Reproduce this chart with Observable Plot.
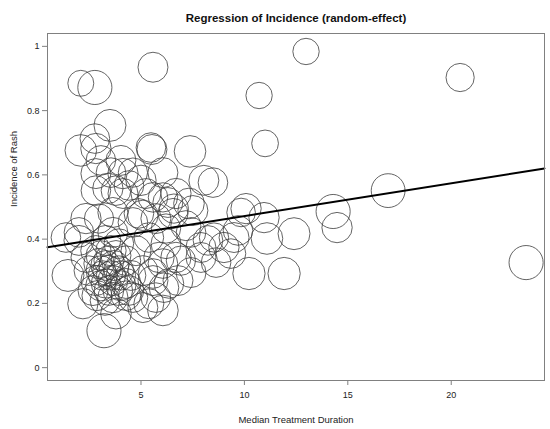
<!DOCTYPE html>
<html>
<head>
<meta charset="utf-8">
<script src="https://cdn.jsdelivr.net/npm/d3@7"></script>
<script src="https://cdn.jsdelivr.net/npm/@observablehq/plot@0.6"></script>
<style>
  html, body { margin: 0; padding: 0; background: white; }
  #chart { width: 550px; height: 429px; }
</style>
</head>
<body>
<div id="chart"></div>
<script>
// Study-level points: median treatment duration, rash incidence, study weight.
const durations = [
  2.09, 2.77, 5.58, 12.98, 20.43, 10.71, 11.00, 3.50, 2.09, 2.77, 2.82, 5.48, 5.53, 7.37,
  23.62, 16.95, 14.29, 14.48,
  8.04, 8.48, 7.32, 7.51, 6.59, 10.08, 9.84, 10.95, 12.40, 11.09, 9.69, 9.50, 8.24, 8.53,
  7.90, 9.01, 9.35, 7.90, 6.93, 10.22, 11.92, 6.79, 6.11,
  2.82, 3.55, 4.13, 4.61, 6.06, 2.82, 3.40, 4.13, 5.58, 6.30, 2.34, 2.97, 3.64, 4.61, 5.09,
  5.72, 2.00, 3.64, 6.21,
  3.79, 5.24, 6.06, 6.69, 4.90, 6.55, 5.38, 6.21, 6.06, 6.69, 5.58, 6.35, 5.38, 6.06, 4.42,
  1.47, 3.21, 2.19, 3.79, 5.09, 5.72, 2.68, 2.48, 2.97, 3.45, 3.93, 4.27, 3.30, 2.82, 3.64,
  4.61, 5.09, 5.58, 5.87, 2.00, 1.37, 4.76, 3.93, 2.82, 2.34,
  3.06, 3.30, 3.55, 3.06, 3.45, 3.64, 3.26, 4.03, 3.06, 3.55, 3.30, 4.27, 4.51,
  3.06, 4.03, 4.42, 5.00, 7.42, 7.17, 8.63, 7.42,
  3.16, 3.69, 3.88, 3.40, 4.03, 2.87, 4.27, 3.79
];
const incidence = [
  0.885, 0.872, 0.935, 0.984, 0.903, 0.847, 0.698, 0.754, 0.676, 0.713, 0.682, 0.685, 0.679, 0.673,
  0.327, 0.551, 0.486, 0.436,
  0.583, 0.576, 0.511, 0.489, 0.495, 0.495, 0.483, 0.467, 0.417, 0.402, 0.427, 0.405, 0.396, 0.405,
  0.374, 0.374, 0.355, 0.343, 0.333, 0.293, 0.293, 0.271, 0.249,
  0.604, 0.607, 0.604, 0.607, 0.607, 0.551, 0.558, 0.542, 0.530, 0.514, 0.464, 0.464, 0.483, 0.452, 0.474,
  0.464, 0.421, 0.421, 0.433,
  0.551, 0.542, 0.530, 0.542, 0.480, 0.480, 0.405, 0.386, 0.324, 0.343, 0.271, 0.262, 0.199, 0.178, 0.240,
  0.287, 0.115, 0.199, 0.168, 0.187, 0.218, 0.240, 0.302, 0.324, 0.333, 0.302, 0.262, 0.262, 0.271, 0.218,
  0.218, 0.302, 0.293, 0.343, 0.396, 0.405, 0.364, 0.386, 0.364, 0.343,
  0.302, 0.318, 0.287, 0.255, 0.240, 0.271, 0.209, 0.255, 0.349, 0.364, 0.396, 0.333, 0.287,
  0.645, 0.645, 0.567, 0.583, 0.421, 0.442, 0.327, 0.296,
  0.287, 0.318, 0.240, 0.302, 0.287, 0.224, 0.224, 0.349
];
const weights = [
  165, 285, 220, 170, 195, 170, 175, 250, 245, 215, 225, 215, 220, 245,
  285, 280, 285, 225,
  220, 215, 230, 220, 210, 225, 200, 225, 250, 245, 215, 220, 215, 210,
  220, 225, 215, 220, 210, 255, 255, 220, 215,
  220, 215, 225, 210, 220, 215, 225, 220, 215, 220, 225, 210, 220, 215, 225,
  220, 215, 220, 210,
  215, 220, 210, 225, 215, 220, 215, 220, 215, 225, 220, 215, 220, 230, 215,
  250, 285, 225, 230, 220, 215, 220, 215, 225, 220, 215, 220, 210, 220, 225,
  215, 220, 215, 225, 220, 215, 220, 215, 225, 220,
  215, 220, 210, 225, 215, 220, 215, 220, 215, 225, 220, 215, 220,
  215, 220, 215, 225, 215, 220, 215, 220,
  210, 220, 215, 225, 210, 220, 215, 220
];

// Random-effect meta-regression fit: incidence = intercept + slope * duration
const reIntercept = 0.370;
const reSlope = 0.0102;

const xTicks = [5, 10, 15, 20];
const yTicks = [0, 0.2, 0.4, 0.6, 0.8, 1];

const titleText = "Regression of Incidence (random-effect)";
const xLabel = "Median Treatment Duration";
const yLabel = "Incidence of Rash";

const studies = durations.map((d, i) => ({ duration: d, incidence: incidence[i], weight: weights[i] }));

// R-style axis padding: 4% beyond the data range on each side.
const xExt = d3.extent(durations);
const xPad = (xExt[1] - xExt[0]) * 0.04;
const xDomain = [xExt[0] - xPad, xExt[1] + xPad];
const yDomain = [-0.04, 1.04];

const fitLine = xDomain.map(x => ({ duration: x, incidence: reIntercept + reSlope * x }));

const gray = "#808080";

const svg = Plot.plot({
  width: 550,
  height: 429,
  marginTop: 33,
  marginBottom: 49,
  marginLeft: 47,
  marginRight: 6,
  style: {
    background: "white",
    color: "#222",
    fontFamily: "'Liberation Sans', Arial, Helvetica, sans-serif",
    fontSize: 9,
    overflow: "visible"
  },
  x: { domain: xDomain },
  y: { domain: yDomain },
  r: { type: "sqrt", domain: [0, 300], range: [0, 17.5] },
  marks: [
    Plot.dot(studies, {
      x: "duration", y: "incidence", r: "weight",
      fill: "none", stroke: "#3c3c3c", strokeWidth: 0.8
    }),
    Plot.line(fitLine, { x: "duration", y: "incidence", stroke: "black", strokeWidth: 2 }),
    Plot.frame({ stroke: gray }),
    Plot.axisX(xTicks, { tickSize: 5, tickPadding: 6, stroke: gray, label: null, fontSize: 9 }),
    Plot.axisY(yTicks, { tickSize: 5, tickPadding: 3, stroke: gray, label: null, fontSize: 9,
      tickFormat: d => String(d) }),
    Plot.text([titleText], { frameAnchor: "top", dy: -20, fontWeight: "bold", fontSize: 11.5, fill: "#111" }),
    Plot.text([xLabel], { frameAnchor: "bottom", dy: 42, fontSize: 9.5 }),
    Plot.text([yLabel], { frameAnchor: "left", dx: -34, rotate: -90, fontSize: 9.5 })
  ]
});

document.getElementById("chart").appendChild(svg);
</script>
</body>
</html>
